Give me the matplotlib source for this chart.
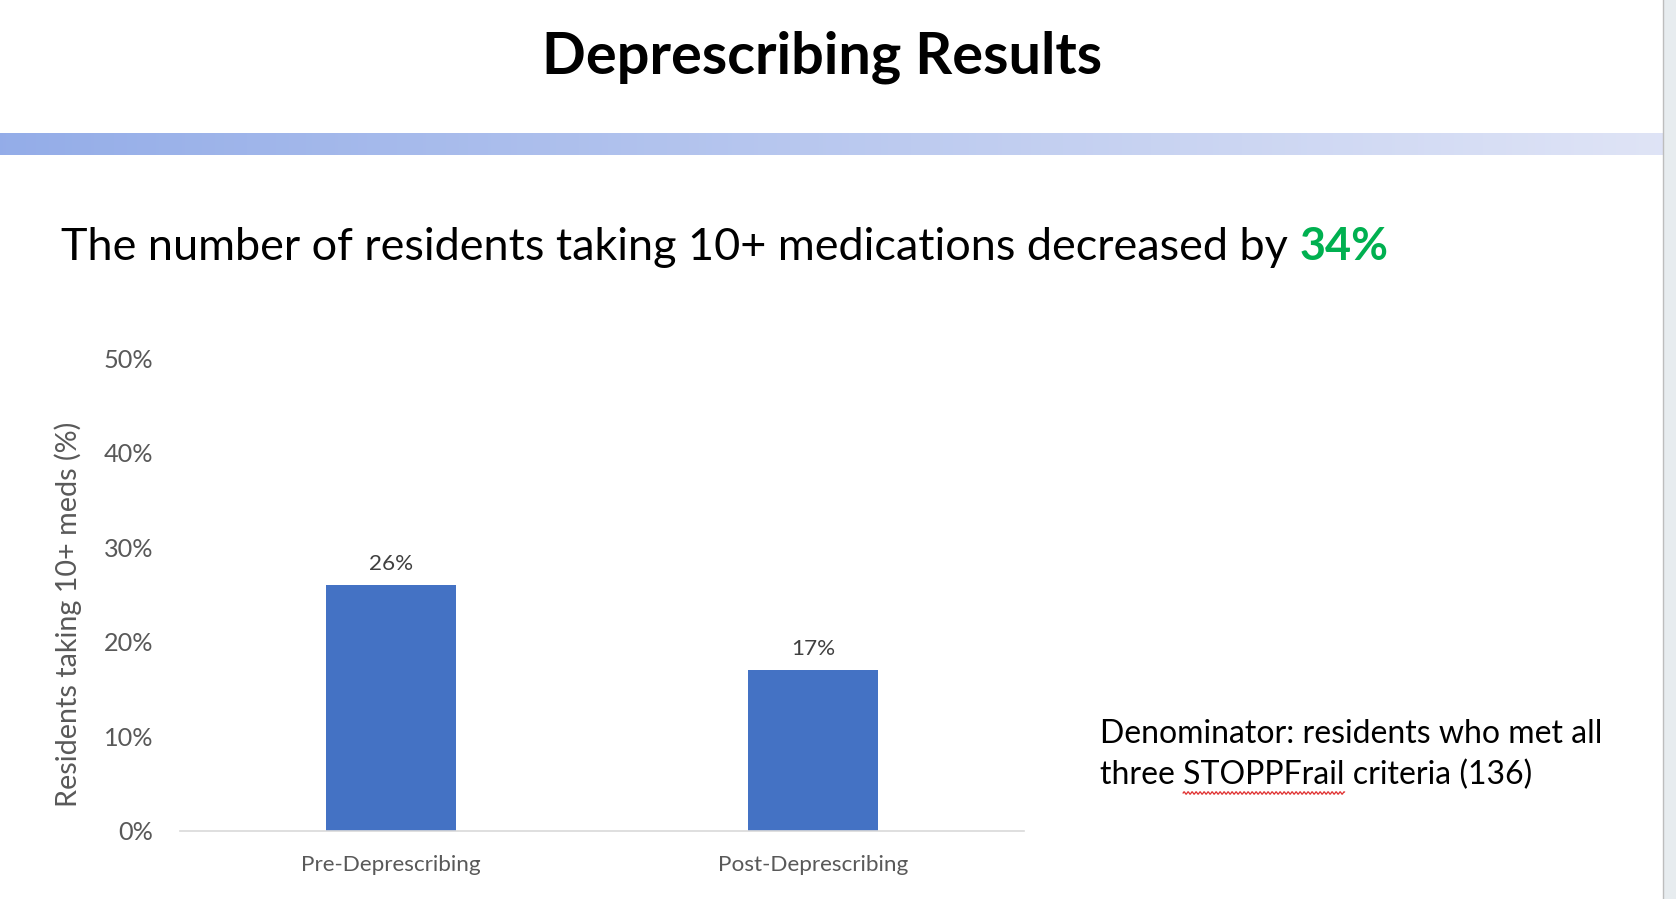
import numpy as np
import matplotlib
matplotlib.use("Agg")
import matplotlib.pyplot as plt
from matplotlib.lines import Line2D
from matplotlib.patches import Rectangle
from matplotlib.transforms import IdentityTransform

# ---- data ----
categories = ["Pre-Deprescribing", "Post-Deprescribing"]
values = [0.26, 0.17]
value_labels = ["26%", "17%"]
yticks = [0.0, 0.1, 0.2, 0.3, 0.4, 0.5]
ytick_labels = ["0%", "10%", "20%", "30%", "40%", "50%"]
title = "Deprescribing Results"
subtitle = "The number of residents taking 10+ medications decreased by "
subtitle_hi = "34%"
ylabel = "Residents taking 10+ meds (%)"
note_line1 = "Denominator: residents who met all"
note_line2 = "three STOPPFrail criteria (136)"
note_word = "STOPPFrail"

FONT = "Lato"
plt.rcParams["font.family"] = [FONT, "DejaVu Sans"]

W, H = 1676, 899
DPI = 100
fig = plt.figure(figsize=(W / DPI, H / DPI), dpi=DPI)
fig.patch.set_facecolor("white")

def fy(ypix):  # top-based pixel -> figure fraction
    return 1 - ypix / H

def fx(xpix):
    return xpix / W

# gradient band
gax = fig.add_axes([0, fy(155), fx(1664), (155 - 133) / H])
grad = np.linspace(0, 1, 512)
c0 = np.array([0.580, 0.678, 0.910])
c1 = np.array([0.875, 0.894, 0.965])
img = c0[None, None, :] + (c1 - c0)[None, None, :] * grad[None, :, None]
gax.imshow(img, aspect="auto", extent=[0, 1, 0, 1])
gax.set_axis_off()

# right edge strip
fig.patches.append(Rectangle((fx(1663), 0), 1 - fx(1663), 1, transform=fig.transFigure,
                             facecolor="#E7ECEF", edgecolor="none"))
fig.lines.append(Line2D([fx(1662.5), fx(1662.5)], [0, 1], transform=fig.transFigure,
                        color="#BDBDBD", lw=1.0))

# title
fig.text(fx(822), fy(73), title, ha="center", va="baseline", fontsize=41.5,
         fontweight="bold", color="black")

# subtitle
SUB_FS = 32.4
t_sub = fig.text(fx(61), fy(260), subtitle, ha="left", va="baseline", fontsize=SUB_FS, color="black")

# chart axes
ax = fig.add_axes([fx(180), fy(831), fx(1024) - fx(180), (831 - 358) / H])
x = np.arange(len(categories))
bars = ax.bar(x, values, width=0.31, color="#4472C4")
ax.set_xlim(-0.5, len(categories) - 0.5)
ax.set_ylim(0, 0.5)
ax.set_yticks(yticks)
ax.set_yticklabels(ytick_labels)
ax.set_xticks(x)
ax.set_xticklabels(categories)
for s in ["top", "right", "left"]:
    ax.spines[s].set_visible(False)
ax.spines["bottom"].set_color("#D9D9D9")
ax.spines["bottom"].set_linewidth(1.2)
ax.tick_params(axis="y", length=0, pad=19, labelsize=18.2, labelcolor="#595959")
ax.tick_params(axis="x", length=0, pad=17.5, labelsize=16.2, labelcolor="#595959")
for xi, v, lab in zip(x, values, value_labels):
    ax.annotate(lab, (xi, v), xytext=(0, 10.8), textcoords="offset points",
                ha="center", va="baseline", fontsize=16.2, color="#404040")
ax.set_ylabel(ylabel, fontsize=20.7, color="#595959")
ax.yaxis.label.set_va("center")
ax.yaxis.set_label_coords((68 - 180) / 844, (831 - 614) / 473)

# note text
NOTE_FS = 23.0
fig.text(fx(1100), fy(743), note_line1, ha="left", va="baseline", fontsize=NOTE_FS, color="black")
t2 = fig.text(fx(1100), fy(784), note_line2, ha="left", va="baseline", fontsize=NOTE_FS, color="black")

fig.canvas.draw()
r = fig.canvas.get_renderer()

# highlighted part of subtitle
bb = t_sub.get_window_extent(r)
fig.text(bb.x1 / W, fy(260), subtitle_hi, ha="left", va="baseline", fontsize=SUB_FS,
         fontweight="bold", color="#00B050")

# wavy underline under STOPPFrail
def width_of(s, ref):
    tt = fig.text(0, 0, s, fontsize=ref.get_fontsize(), family=ref.get_fontfamily())
    w = tt.get_window_extent(r).width
    tt.remove()
    return w
bb2 = t2.get_window_extent(r)
idx = note_line2.index(note_word)
w_prefix_word = width_of(note_line2[: idx + len(note_word)], t2)
w_word = width_of(note_word, t2)
xs0 = bb2.x0 + w_prefix_word - w_word
xs1 = bb2.x0 + w_prefix_word
xx = np.linspace(xs0, xs1, 400)
yy = (H - 793) + 1.2 * np.sin((xx - xs0) / 4.0 * 2 * np.pi)
fig.lines.append(Line2D(xx, yy, transform=IdentityTransform(), color="#E03030", lw=0.9))

fig.savefig("out.png", dpi=DPI)
